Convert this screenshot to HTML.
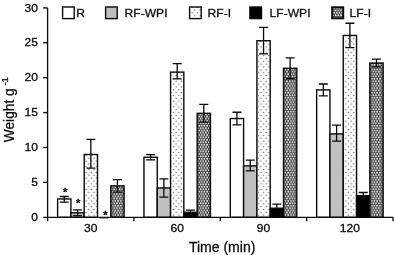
<!DOCTYPE html>
<html><head><meta charset="utf-8"><title>Weight vs Time</title>
<style>
html,body{margin:0;padding:0;background:#fff;}
svg{display:block;font-family:"Liberation Sans",sans-serif;}
text{fill:#0a0a0a;stroke:#0a0a0a;stroke-width:0.28;}
.b{stroke:#0a0a0a;stroke-width:1.4;}
.l{stroke:#0a0a0a;stroke-width:1.35;fill:none;}
.e{stroke:#0a0a0a;stroke-width:1.3;fill:none;}
.t{font-size:11.5px;}
.T{font-size:14.2px;}
.s{font-size:11px;font-weight:bold;stroke-width:0.3;}
</style></head><body>
<svg width="395" height="255" viewBox="0 0 395 255">
<defs>
<pattern id="pd" width="5.3" height="5.7" patternUnits="userSpaceOnUse">
<rect width="5.3" height="5.7" fill="#fff"/>
<circle cx="1.3" cy="1.4" r="0.78" fill="#6a6a6a"/><circle cx="3.95" cy="4.25" r="0.78" fill="#6a6a6a"/>
</pattern>
<pattern id="pg" width="2.7" height="4.7" patternUnits="userSpaceOnUse">
<rect width="2.7" height="4.7" fill="#333"/>
<ellipse cx="0.675" cy="1.175" rx="1.0" ry="0.9" fill="#fff"/><ellipse cx="2.025" cy="3.525" rx="1.0" ry="0.9" fill="#fff"/>
</pattern>
</defs>
<rect width="395" height="255" fill="#fff"/>
<rect class="b" x="57.60" y="198.94" width="13.3" height="18.36" fill="#fff"/>
<rect class="b" x="70.90" y="212.76" width="13.3" height="4.54" fill="#c0c0c0"/>
<rect class="b" x="84.20" y="154.48" width="13.3" height="62.82" fill="url(#pd)"/>
<rect class="b" x="110.80" y="185.89" width="13.3" height="31.41" fill="url(#pg)"/>
<path d="M112.00 185.89V217.3M122.90 185.89V217.3" stroke="#111" stroke-opacity="0.35" stroke-width="1.0" fill="none"/>
<rect class="b" x="143.95" y="157.27" width="13.3" height="60.03" fill="#fff"/>
<rect class="b" x="157.25" y="187.98" width="13.3" height="29.32" fill="#c0c0c0"/>
<rect class="b" x="170.55" y="72.12" width="13.3" height="145.18" fill="url(#pd)"/>
<rect class="b" x="183.85" y="212.27" width="13.3" height="5.03" fill="#000"/>
<rect class="b" x="197.15" y="113.30" width="13.3" height="104.00" fill="url(#pg)"/>
<path d="M198.35 113.30V217.3M209.25 113.30V217.3" stroke="#111" stroke-opacity="0.35" stroke-width="1.0" fill="none"/>
<rect class="b" x="230.30" y="118.53" width="13.3" height="98.77" fill="#fff"/>
<rect class="b" x="243.60" y="165.86" width="13.3" height="51.44" fill="#c0c0c0"/>
<rect class="b" x="256.90" y="40.71" width="13.3" height="176.59" fill="url(#pd)"/>
<rect class="b" x="270.20" y="208.23" width="13.3" height="9.07" fill="#000"/>
<rect class="b" x="283.50" y="68.28" width="13.3" height="149.02" fill="url(#pg)"/>
<path d="M284.70 68.28V217.3M295.60 68.28V217.3" stroke="#111" stroke-opacity="0.35" stroke-width="1.0" fill="none"/>
<rect class="b" x="316.65" y="89.92" width="13.3" height="127.39" fill="#fff"/>
<rect class="b" x="329.95" y="133.89" width="13.3" height="83.41" fill="#c0c0c0"/>
<rect class="b" x="343.25" y="35.47" width="13.3" height="181.83" fill="url(#pd)"/>
<rect class="b" x="356.55" y="195.66" width="13.3" height="21.64" fill="#000"/>
<rect class="b" x="369.85" y="63.04" width="13.3" height="154.26" fill="url(#pg)"/>
<path d="M371.05 63.04V217.3M381.95 63.04V217.3" stroke="#111" stroke-opacity="0.35" stroke-width="1.0" fill="none"/>
<path class="e" d="M64.25 196.50V202.08M59.75 196.50H68.75M59.75 202.08H68.75"/>
<path class="e" d="M77.55 209.83V215.69M73.05 209.83H82.05M73.05 215.69H82.05"/>
<path class="e" d="M90.85 139.47V168.09M86.35 139.47H95.35M86.35 168.09H95.35"/>
<path class="e" d="M99.65 217.70H108.65"/>
<path class="e" d="M117.45 179.61V192.17M112.95 179.61H121.95M112.95 192.17H121.95"/>
<path class="e" d="M150.60 154.69V159.85M146.10 154.69H155.10M146.10 159.85H155.10"/>
<path class="e" d="M163.90 178.91V197.06M159.40 178.91H168.40M159.40 197.06H168.40"/>
<path class="e" d="M177.20 63.53V78.89M172.70 63.53H181.70M172.70 78.89H181.70"/>
<path class="e" d="M190.50 210.18V212.27M186.00 210.18H195.00"/>
<path class="e" d="M203.80 104.43V122.16M199.30 104.43H208.30M199.30 122.16H208.30"/>
<path class="e" d="M236.95 112.25V124.82M232.45 112.25H241.45M232.45 124.82H241.45"/>
<path class="e" d="M250.25 160.20V170.81M245.75 160.20H254.75M245.75 170.81H254.75"/>
<path class="e" d="M263.55 27.44V53.97M259.05 27.44H268.05M259.05 53.97H268.05"/>
<path class="e" d="M276.85 204.04V208.23M272.35 204.04H281.35"/>
<path class="e" d="M290.15 57.81V78.75M285.65 57.81H294.65M285.65 78.75H294.65"/>
<path class="e" d="M323.30 83.98V95.85M318.80 83.98H327.80M318.80 95.85H327.80"/>
<path class="e" d="M336.60 125.09V141.15M332.10 125.09H341.10M332.10 141.15H341.10"/>
<path class="e" d="M349.90 23.26V47.69M345.40 23.26H354.40M345.40 47.69H354.40"/>
<path class="e" d="M363.20 192.52V195.66M358.70 192.52H367.70"/>
<path class="e" d="M376.50 59.20V66.88M372.00 59.20H381.00M372.00 66.88H381.00"/>
<path class="l" d="M47.6 7.9V221.3"/>
<path class="l" d="M43.2 217.3H393.2"/>
<path class="l" d="M43.2 182.40H47.6"/>
<path class="l" d="M43.2 147.50H47.6"/>
<path class="l" d="M43.2 112.60H47.6"/>
<path class="l" d="M43.2 77.70H47.6"/>
<path class="l" d="M43.2 42.80H47.6"/>
<path class="l" d="M43.2 7.90H47.6"/>
<path class="l" d="M133.95 217.3V221.3"/>
<path class="l" d="M220.30 217.3V221.3"/>
<path class="l" d="M306.65 217.3V221.3"/>
<path class="l" d="M393.00 217.3V221.3"/>
<text class="t" transform="translate(38.00 220.95) scale(1.05 1)" text-anchor="end">0</text>
<text class="t" transform="translate(38.00 186.05) scale(1.05 1)" text-anchor="end">5</text>
<text class="t" transform="translate(38.00 151.15) scale(1.05 1)" text-anchor="end">10</text>
<text class="t" transform="translate(38.00 116.25) scale(1.05 1)" text-anchor="end">15</text>
<text class="t" transform="translate(38.00 81.35) scale(1.05 1)" text-anchor="end">20</text>
<text class="t" transform="translate(38.00 46.45) scale(1.05 1)" text-anchor="end">25</text>
<text class="t" transform="translate(38.00 11.55) scale(1.05 1)" text-anchor="end">30</text>
<text class="t" transform="translate(90.78 232.00) scale(1.05 1)" text-anchor="middle">30</text>
<text class="t" transform="translate(177.12 232.00) scale(1.05 1)" text-anchor="middle">60</text>
<text class="t" transform="translate(263.48 232.00) scale(1.05 1)" text-anchor="middle">90</text>
<text class="t" transform="translate(349.82 232.00) scale(1.05 1)" text-anchor="middle">120</text>
<text class="T" transform="translate(188.9 252) scale(0.988 1)">Time (min)</text>
<text class="T" transform="translate(14.4 142.3) rotate(-90) scale(0.97 1)">Weight g<tspan dy="-6.3" font-size="9.9px"> -1</tspan></text>
<text class="s" x="65.2" y="195.65" text-anchor="middle">*</text>
<text class="s" x="78.2" y="206.90" text-anchor="middle">*</text>
<text class="s" x="105.4" y="218.60" text-anchor="middle">*</text>
<rect class="b" x="62.6" y="7" width="11.6" height="11.6" fill="#fff"/>
<text class="t" transform="translate(76.30 17.10) scale(1.05 1)" text-anchor="start">R</text>
<rect class="b" x="105.6" y="7" width="11.6" height="11.6" fill="#c0c0c0"/>
<text class="t" transform="translate(124.60 17.10) scale(1.05 1)" text-anchor="start">RF-WPI</text>
<rect class="b" x="189.6" y="7" width="11.6" height="11.6" fill="url(#pd)"/>
<text class="t" transform="translate(207.60 17.10) scale(1.05 1)" text-anchor="start">RF-I</text>
<rect class="b" x="249.9" y="7" width="11.6" height="11.6" fill="#000"/>
<text class="t" transform="translate(269.60 17.10) scale(1.05 1)" text-anchor="start">LF-WPI</text>
<rect class="b" style="stroke-width:2" x="332.20" y="7.3" width="11" height="11" fill="url(#pg)"/>
<text class="t" transform="translate(349.60 17.10) scale(1.05 1)" text-anchor="start">LF-I</text>
</svg></body></html>
